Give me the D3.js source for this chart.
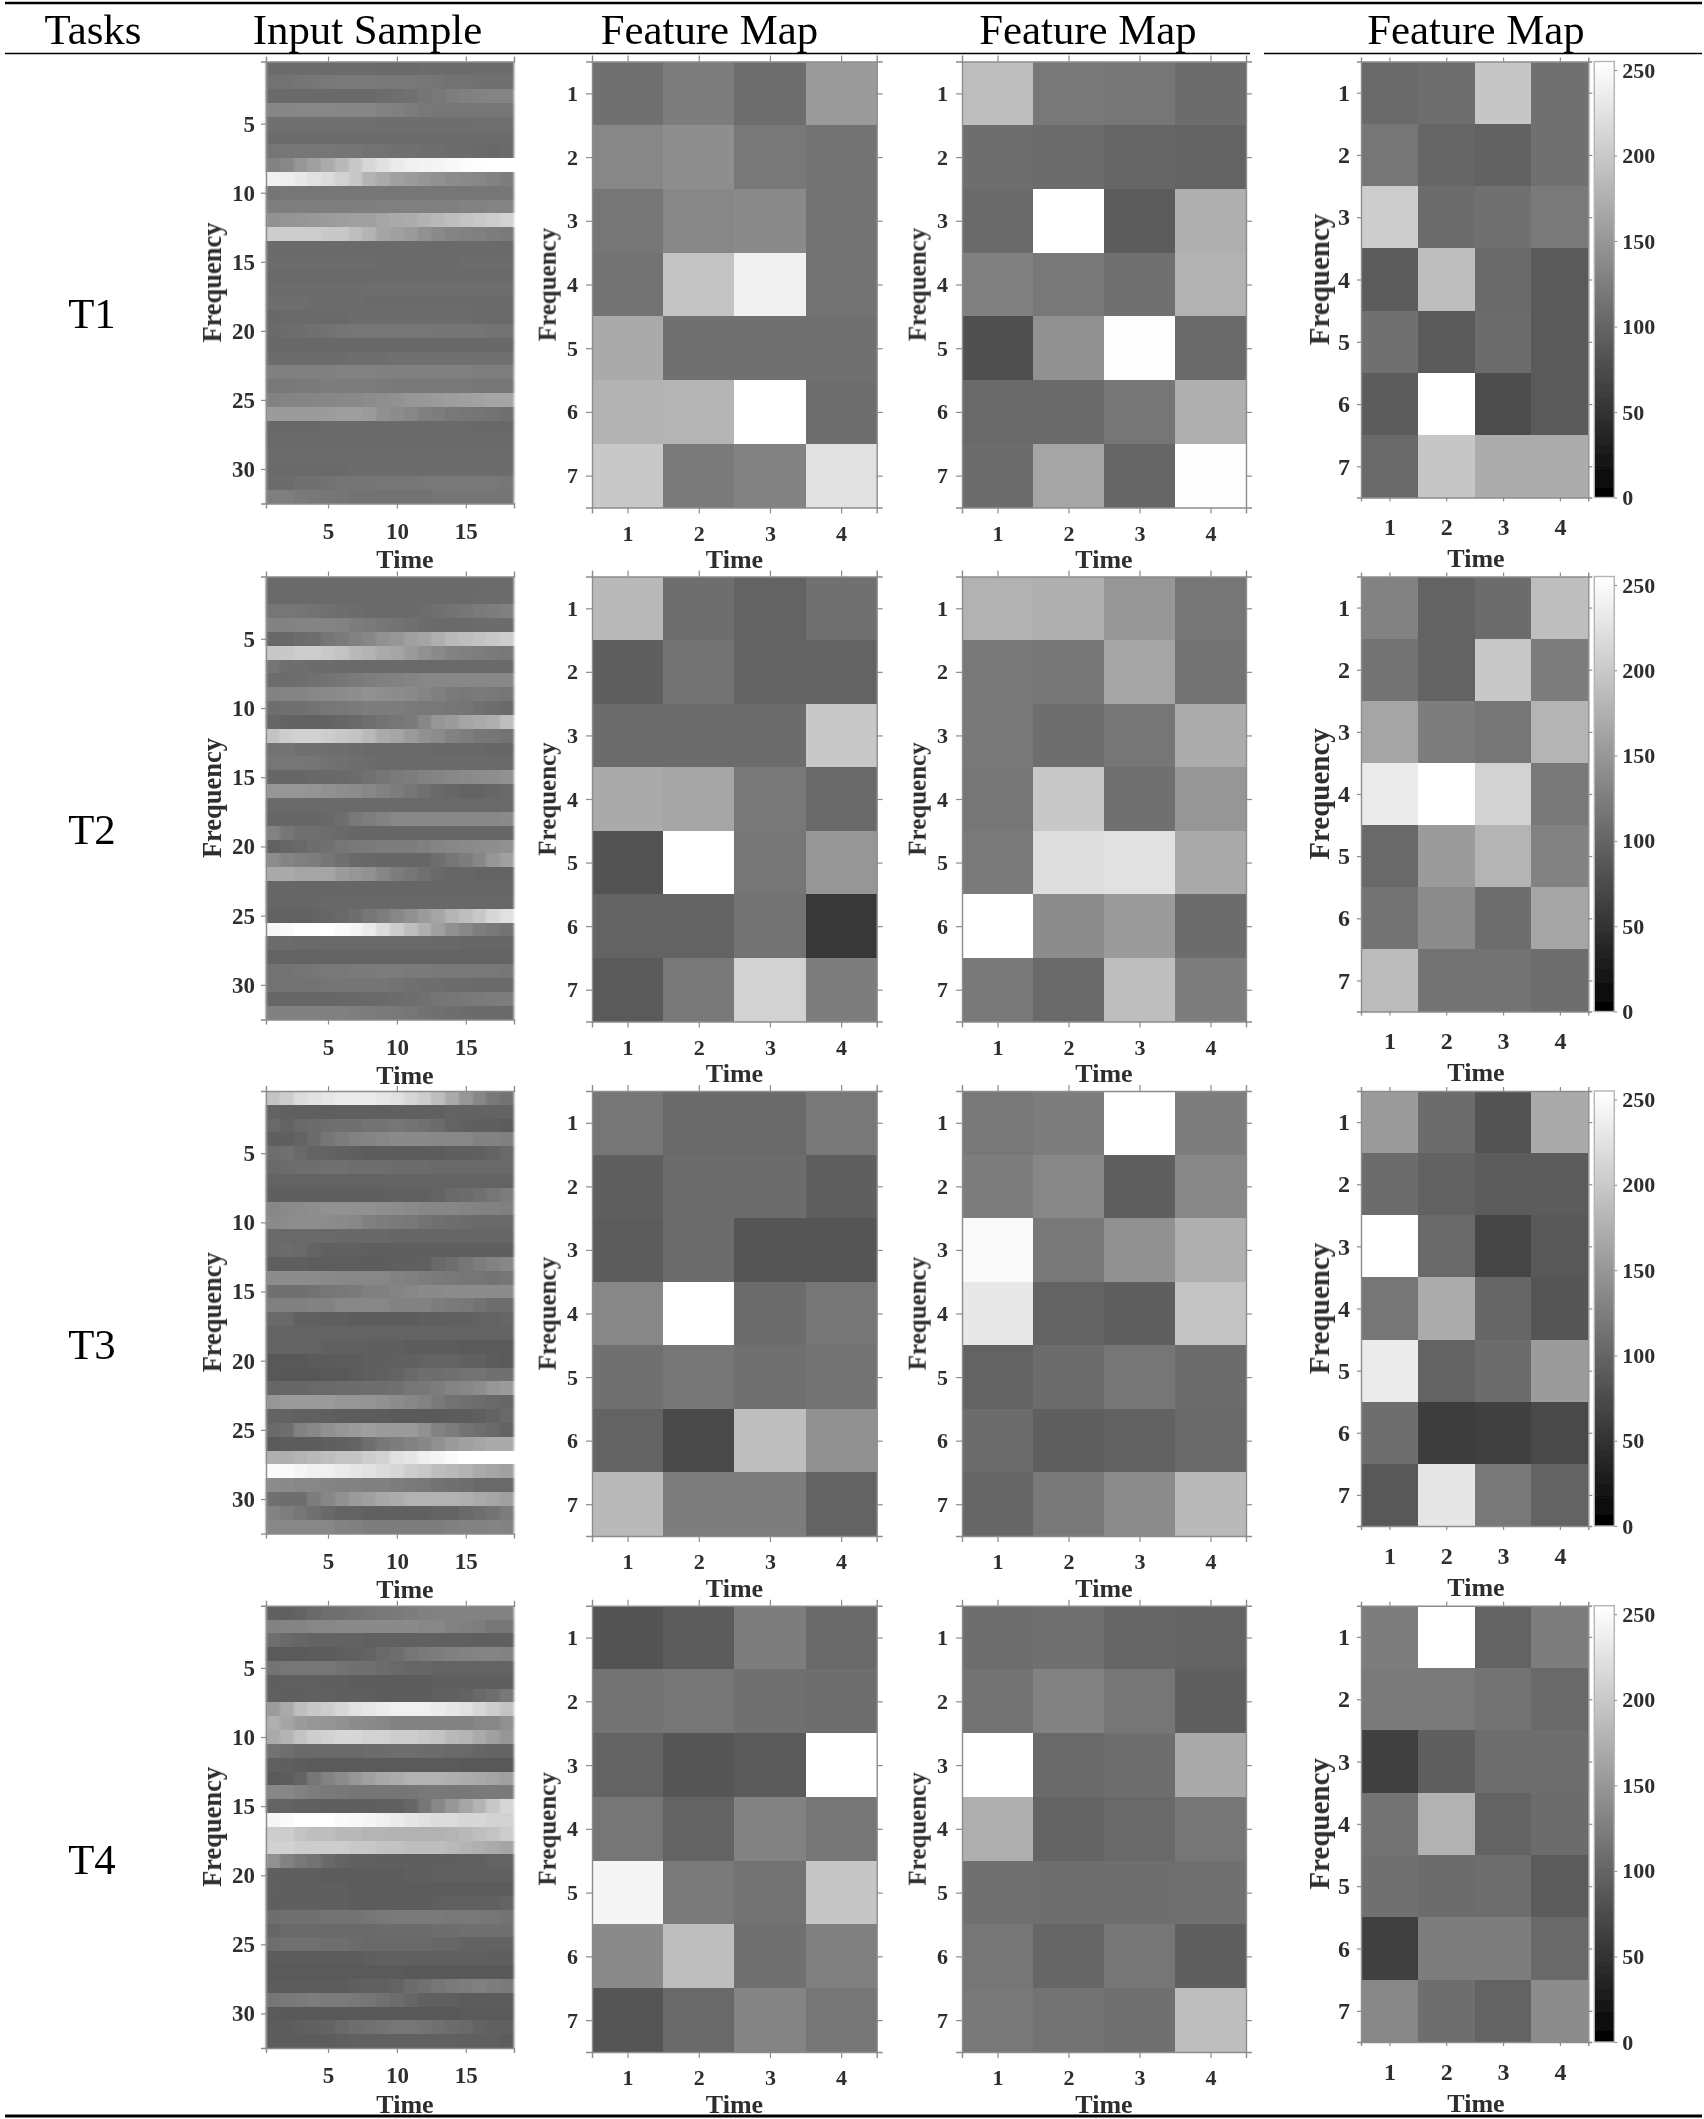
<html lang="en">
<head>
<meta charset="utf-8">
<script src="https://cdn.jsdelivr.net/npm/d3@7"></script>
<style>
body{margin:0;background:#fff}
svg{display:block}
text{font-family:"Liberation Serif",serif}
</style>
</head>
<body>
<div id="drawarea"></div>
<script>
const headers=["Tasks","Input Sample","Feature Map","Feature Map","Feature Map"]
const tasks=["T1","T2","T3","T4"]
const inputYTicks=[5,10,15,20,25,30]
const inputXTicks=[5,10,15]
const mapYTicks=[1,2,3,4,5,6,7]
const mapXTicks=[1,2,3,4]
const barTicks=[0,50,100,150,200,250]

//gray levels, rows are frequency, columns are time
const t1Input=[
[108,108,108,108,108,108,108,108,107,107,107,108,108,108,108,108,108,108],
[114,114,116,118,120,122,122,122,120,120,120,118,116,114,114,112,112,112],
[106,106,106,106,106,106,106,106,108,110,112,116,120,125,128,130,132,132],
[134,134,136,136,135,134,134,134,130,128,124,120,118,118,118,118,118,118],
[112,112,112,112,112,112,112,112,110,110,110,110,110,110,110,112,112,112],
[108,108,108,108,108,108,108,108,108,108,108,108,108,108,108,108,108,108],
[118,118,118,118,118,116,116,114,114,112,112,110,110,108,108,106,104,106],
[130,136,150,160,170,185,200,215,225,235,240,243,245,248,252,254,255,255],
[240,238,232,225,220,210,200,180,170,160,155,150,145,140,138,135,130,125],
[116,118,118,118,118,118,118,118,118,118,118,118,118,118,118,118,118,118],
[126,126,126,126,126,126,126,126,128,128,128,128,128,128,130,130,132,132],
[145,148,150,152,155,158,160,160,165,170,172,178,185,190,195,200,205,210],
[205,205,205,205,200,200,190,180,165,160,155,145,138,132,130,128,125,122],
[106,106,106,106,106,106,106,106,106,106,106,106,106,106,106,106,106,106],
[108,108,108,108,108,108,108,108,107,107,107,107,107,107,108,108,108,108],
[106,106,106,106,106,106,106,106,106,106,106,106,106,106,106,106,106,106],
[108,108,108,108,108,108,108,110,110,110,110,110,110,110,110,110,110,110],
[110,110,110,108,108,108,108,106,106,106,106,106,106,106,106,106,106,106],
[104,106,106,106,106,106,108,108,108,108,108,108,108,108,108,106,106,106],
[106,108,110,112,114,116,118,118,118,118,118,118,116,116,116,116,114,114],
[104,104,104,104,104,104,104,104,104,104,104,104,104,104,104,104,104,104],
[108,108,108,108,108,108,110,110,110,112,112,112,112,112,112,112,112,112],
[128,128,128,128,128,130,130,130,128,128,128,128,128,128,128,126,126,126],
[120,120,122,122,124,124,124,124,122,120,120,120,120,120,120,118,118,118],
[130,132,133,134,135,136,137,140,142,145,150,152,155,158,160,162,165,165],
[155,155,155,155,155,158,158,155,145,140,135,128,125,120,118,116,115,112],
[104,104,104,104,106,106,106,106,106,106,106,106,106,106,106,104,104,104],
[106,106,106,106,106,106,106,106,106,106,106,106,106,106,106,106,106,106],
[108,108,108,108,108,108,108,108,108,108,108,108,108,108,108,108,108,108],
[106,106,106,106,106,106,108,108,108,108,108,108,108,108,108,108,108,108],
[108,108,112,112,114,116,116,116,118,118,118,120,120,120,120,120,120,118],
[126,126,122,120,118,116,114,114,114,114,114,114,116,116,116,116,116,116]]
const t2Input=[
[106,106,106,106,106,106,106,106,106,106,106,106,106,106,106,106,106,106],
[107,107,107,107,107,107,107,107,107,107,107,107,107,107,107,108,108,108],
[118,118,116,114,112,110,108,107,106,106,106,108,112,115,118,122,125,128],
[130,130,132,132,132,130,125,122,118,115,112,108,106,106,106,108,108,108],
[104,104,108,110,118,122,130,135,145,150,160,165,175,185,190,195,200,205],
[200,200,205,205,200,195,185,180,170,165,155,145,138,130,128,125,122,120],
[118,110,110,108,108,106,106,106,106,106,106,106,106,106,106,106,106,106],
[108,108,110,112,115,118,122,125,128,130,132,135,135,135,135,135,135,135],
[130,132,132,135,138,140,142,145,142,140,138,132,128,122,120,122,120,118],
[110,112,112,115,118,120,122,125,125,125,122,120,120,118,116,112,110,106],
[102,100,98,98,100,102,105,110,115,118,122,135,150,155,165,170,175,190],
[195,205,210,210,205,200,195,185,170,165,155,145,140,130,125,120,118,115],
[115,115,112,112,110,110,108,106,105,105,105,105,104,104,104,104,102,102],
[118,118,118,116,114,112,110,108,106,106,106,106,106,106,106,106,106,106],
[102,102,102,104,104,105,108,112,118,122,125,130,132,135,138,140,142,145],
[150,150,150,148,145,142,140,135,130,125,118,112,105,102,100,100,102,105],
[106,106,106,106,106,106,106,107,107,107,107,105,105,105,105,105,105,105],
[102,102,102,102,104,110,120,125,130,135,135,135,135,135,135,135,135,138],
[130,118,112,112,108,105,102,102,102,102,102,102,102,102,102,102,102,102],
[98,102,105,110,112,118,120,122,125,125,125,128,132,135,138,140,142,145],
[140,132,128,125,118,112,105,104,102,102,102,102,110,118,125,135,150,160],
[170,170,165,165,165,155,150,145,135,125,118,112,105,102,102,100,100,100],
[102,102,102,102,102,102,102,102,102,102,102,102,102,102,102,102,102,102],
[102,102,102,102,104,104,104,104,104,104,104,104,104,104,104,104,104,104],
[98,98,98,100,102,105,110,118,125,135,145,155,165,180,190,200,215,225],
[245,250,255,255,255,250,245,235,220,205,190,175,160,145,135,125,120,115],
[108,108,106,106,105,105,105,105,105,105,105,105,104,104,102,102,102,102],
[100,100,100,100,100,100,100,100,100,100,100,100,100,100,100,100,100,100],
[114,115,116,118,120,120,122,122,124,124,122,122,120,120,120,120,120,118],
[114,114,115,115,116,116,116,116,116,114,112,110,110,108,108,106,106,106],
[102,102,102,102,102,104,104,105,106,108,110,112,116,118,120,122,124,125],
[128,128,128,128,128,128,126,124,122,120,118,114,112,110,108,106,106,105]]
const t3Input=[
[195,205,220,225,230,235,235,235,230,225,215,205,190,170,150,135,120,115],
[100,96,95,94,94,94,94,94,95,96,96,97,97,99,100,100,100,100],
[105,100,105,108,110,112,112,115,115,118,115,112,108,100,97,95,94,92],
[95,95,100,108,118,125,130,132,135,138,138,138,135,135,135,130,130,128],
[110,112,105,100,100,97,95,92,92,92,92,92,92,94,94,97,100,105],
[105,108,110,110,112,112,110,110,110,108,108,108,105,105,105,105,105,105],
[100,100,100,100,100,100,99,99,99,99,99,99,99,99,99,99,99,99],
[95,94,94,95,95,95,95,95,95,96,96,97,100,105,108,112,118,125],
[135,138,140,142,145,145,145,145,142,140,138,135,135,135,132,130,130,128],
[138,140,142,142,140,138,135,128,125,122,120,115,112,110,108,105,105,105],
[105,105,105,105,105,104,104,104,104,102,102,102,102,102,102,102,102,102],
[105,108,105,100,97,96,96,95,95,95,94,94,94,94,94,94,95,95],
[95,94,94,93,93,93,93,93,93,94,95,97,105,110,118,125,130,135],
[140,140,140,140,138,135,135,135,135,130,128,125,122,120,118,118,115,118],
[112,112,112,115,118,120,122,128,128,132,135,138,138,140,140,140,140,140],
[128,128,128,130,130,135,135,135,135,130,130,130,125,122,120,115,110,110],
[105,105,97,96,95,94,92,92,92,92,92,94,95,96,97,99,100,102],
[100,100,100,100,100,100,100,100,100,100,100,100,99,99,99,99,99,99],
[100,100,99,100,97,97,96,95,94,94,92,92,92,91,90,90,90,90],
[88,88,89,90,90,91,92,94,95,96,97,99,99,99,97,96,92,90],
[88,86,86,86,88,88,91,94,96,99,105,110,110,112,115,115,112,112],
[102,102,102,105,105,108,108,110,110,112,118,120,125,132,135,140,150,155],
[150,155,155,155,155,150,150,148,145,140,135,130,122,115,112,108,105,102],
[100,100,97,96,95,92,92,91,91,90,90,90,90,91,92,94,100,105],
[105,110,130,135,145,150,155,158,155,155,155,145,130,125,115,110,105,100],
[90,91,92,92,95,96,100,110,120,125,130,135,145,155,160,165,170,170],
[175,175,180,185,190,195,195,205,210,225,230,240,245,250,255,255,255,255],
[250,250,245,240,240,235,230,225,220,215,205,200,190,185,178,170,165,160],
[140,138,135,135,132,130,130,128,128,125,122,120,115,112,110,105,105,105],
[112,110,110,125,135,145,155,160,168,172,178,178,178,178,175,170,165,160],
[130,125,118,112,105,100,99,97,97,97,97,97,99,100,105,110,115,125],
[135,135,135,135,135,130,128,125,125,125,125,125,125,128,130,130,132,130]]
const t4Input=[
[97,97,100,105,110,112,115,118,120,122,125,128,130,130,130,130,130,130],
[130,132,132,135,135,138,138,138,138,138,138,135,135,130,128,125,118,118],
[110,105,102,100,100,99,99,97,97,97,97,97,97,96,95,94,94,94],
[90,90,90,91,92,94,96,100,105,110,118,122,125,128,130,132,132,130],
[115,118,118,118,118,115,112,112,108,105,102,102,100,100,100,100,100,100],
[95,96,96,96,95,94,92,92,92,92,92,92,94,94,95,95,95,95],
[96,95,95,96,96,95,94,94,92,92,92,92,96,97,100,105,110,120],
[155,170,190,200,205,215,225,230,235,240,240,240,235,230,225,215,205,195],
[175,165,155,150,148,145,140,138,135,130,130,130,130,130,130,135,135,145],
[170,180,195,205,210,215,215,210,210,205,205,200,195,185,180,170,160,150],
[115,110,105,105,105,105,105,108,108,110,110,108,108,105,105,102,100,100],
[96,95,92,90,90,90,90,90,90,90,90,90,90,90,89,89,89,88],
[90,92,100,118,130,140,150,160,168,172,178,178,178,175,172,168,165,160],
[135,135,130,125,122,120,118,118,118,118,118,120,120,120,120,122,122,122],
[100,100,97,96,95,94,94,95,96,97,102,118,135,150,165,180,200,215],
[245,250,255,255,255,250,248,245,240,235,230,225,220,220,215,215,210,210],
[205,205,195,190,190,185,185,180,180,178,178,178,178,180,185,190,195,205],
[210,210,205,205,205,205,200,200,195,195,190,190,190,185,180,175,170,165],
[145,130,120,115,105,99,97,96,94,94,94,95,95,95,96,97,100,100],
[95,95,95,94,92,92,92,92,92,92,94,94,96,97,97,97,97,97],
[96,95,95,95,94,94,92,92,92,92,92,92,92,92,92,92,92,92],
[95,95,95,94,94,94,92,92,92,92,92,92,94,96,96,97,97,100],
[110,112,112,112,115,115,115,118,120,122,122,122,122,120,120,120,118,115],
[102,105,105,105,105,105,105,105,108,108,108,108,110,110,112,112,112,112],
[110,112,112,112,110,110,108,105,105,105,105,105,102,102,100,100,100,99],
[92,92,92,92,92,92,92,94,96,97,97,97,97,97,97,96,95,94],
[90,90,90,90,90,90,90,90,90,90,89,89,89,89,89,89,89,89],
[91,91,91,91,92,92,94,96,97,100,108,112,118,122,125,128,125,122],
[118,120,122,125,122,122,120,118,112,108,102,97,95,94,92,92,92,92],
[90,89,89,89,89,89,89,89,89,89,89,89,89,89,90,90,90,90],
[92,92,95,97,100,105,110,112,115,118,118,115,112,108,105,100,97,96],
[92,92,92,92,92,94,96,96,96,96,96,96,96,96,95,94,94,92]]

const t1MapA=[[112,125,110,155],[135,142,120,115],[118,135,138,115],[115,195,240,115],[170,112,112,112],[178,180,255,110],[200,122,130,225]]
const t1MapB=[[190,120,118,108],[110,108,102,100],[106,255,92,175],[128,120,112,178],[80,145,253,106],[105,106,118,175],[108,165,102,253]]
const t1MapC=[[106,110,198,112],[118,102,98,112],[205,108,112,122],[92,190,106,90],[112,90,108,90],[92,255,78,90],[105,198,172,172]]
const t2MapA=[[185,110,100,112],[95,115,100,100],[108,108,108,200],[170,165,120,105],[82,255,118,150],[100,100,115,55],[90,120,210,125]]
const t2MapB=[[178,175,150,118],[120,118,165,115],[120,110,118,172],[118,200,112,150],[122,222,225,170],[255,140,155,108],[120,105,190,125]]
const t2MapC=[[130,100,108,190],[115,100,200,125],[165,125,118,180],[235,255,210,120],[105,155,180,130],[115,140,110,165],[188,115,115,110]]
const t3MapA=[[118,105,105,120],[95,108,108,95],[92,108,85,84],[135,255,108,118],[112,118,112,115],[100,72,190,145],[185,125,125,100]]
const t3MapB=[[120,125,255,125],[125,135,95,135],[250,120,145,175],[232,100,95,195],[100,108,118,108],[108,95,98,105],[102,120,140,185]]
const t3MapC=[[155,108,82,170],[108,98,92,92],[255,105,68,88],[118,172,102,84],[235,100,108,155],[110,60,64,72],[88,230,120,100]]
const t4MapA=[[82,92,125,105],[115,118,112,110],[100,85,90,255],[118,100,130,118],[245,122,115,198],[138,190,112,128],[84,105,132,118]]
const t4MapB=[[110,112,102,100],[115,130,118,95],[255,105,110,170],[175,100,105,118],[112,110,110,112],[118,102,118,95],[120,115,112,190]]
const t4MapC=[[125,255,100,125],[122,122,115,105],[64,95,110,110],[115,178,100,108],[112,108,110,92],[64,125,125,105],[135,110,100,140]]

const inputs=[t1Input,t2Input,t3Input,t4Input]
const mapsA=[t1MapA,t2MapA,t3MapA,t4MapA]
const mapsB=[t1MapB,t2MapB,t3MapB,t4MapB]
const mapsC=[t1MapC,t2MapC,t3MapC,t4MapC]

////////////////layout////////////////
const W=1704,H=2119
const rowTop=[61.5,576.5,1091,1605.7]
const inputH=[442,443,442.6,442.3]
const mapH=[446,445,445,446.3]
const lastH=[436,435,435,436.3]
const headerX=[93,367.5,709.5,1088,1476]
const taskBase=[327.5,843.5,1358.5,1873.5]

const gray=d3.scaleLinear().domain([0,255]).range(["#000","#fff"])

main=d3.select("#drawarea").append("svg").attr("width",W).attr("height",H)
defs=main.append("defs")
defs.append("filter").attr("id","soft").append("feGaussianBlur").attr("stdDeviation",0.55)
defs.append("filter").attr("id","softer").append("feGaussianBlur").attr("stdDeviation",0.3)
defs.append("filter").attr("id","smear").append("feGaussianBlur").attr("stdDeviation","0.9 0.5")

//table rules
rules=main.append("g")
function rule(x1,x2,y,w){rules.append("line").attr("x1",x1).attr("x2",x2).attr("y1",y).attr("y2",y).style("stroke","#000").style("stroke-width",w)}
rule(5,1702,3,2.4)
rule(5,1250,53.5,1.6)
rule(1264,1702,53.5,1.6)
rule(5,1702,2116,3)

heads=main.append("g").attr("filter","url(#softer)")
heads.selectAll("text").data(headers).join("text")
 .attr("x",(d,i)=>headerX[i]).attr("y",43.5).attr("text-anchor","middle")
 .style("font-size","42.8px").style("fill","#000").text(d=>d)
heads.selectAll(null).data(tasks).join("text")
 .attr("x",92).attr("y",(d,i)=>taskBase[i]).attr("text-anchor","middle")
 .style("font-size","42.8px").style("fill","#000").text(d=>d)

function drawPanel(o){
let nRows=o.data.length,nCols=o.data[0].length
let x=d3.scaleLinear().domain([0.5,nCols+0.5]).range([o.x0,o.x1])
let y=d3.scaleLinear().domain([0.5,nRows+0.5]).range([o.y0,o.y1])
let g=main.append("g").attr("filter","url(#soft)")
let cells=o.data.flatMap((row,r)=>row.map((v,c)=>({r:r+1,c:c+1,v:v})))
let cellG=main.insert("g",()=>g.node())
if(nCols>4){cellG.attr("filter","url(#smear)")}
else{cellG.attr("filter","url(#soft)")}
cellG.selectAll("rect").data(cells).join("rect")
 .attr("x",d=>x(d.c-0.5)).attr("y",d=>y(d.r-0.5))
 .attr("width",d=>x(d.c+0.5)-x(d.c-0.5)).attr("height",d=>y(d.r+0.5)-y(d.r-0.5))
 .attr("shape-rendering","crispEdges")
 .style("fill",d=>gray(d.v))
let left=g.append("g").attr("transform","translate("+o.x0+",0)")
 .call(d3.axisLeft(y).tickValues(o.yTicks).tickSizeOuter(0).tickSize(o.tick).tickPadding(o.padY).tickFormat(d3.format("d")))
let top=g.append("g").attr("transform","translate(0,"+o.y0+")")
 .call(d3.axisTop(x).tickValues(o.xTicks).tickSizeOuter(0).tickSize(o.tick).tickFormat(""))
let bottom=g.append("g").attr("transform","translate(0,"+o.y1+")")
 .call(d3.axisBottom(x).tickValues(o.xTicks).tickSizeOuter(0).tickSize(o.tick).tickPadding(o.padX).tickFormat(d3.format("d")))
let axes=[left,top,bottom]
if(o.rightAxis){
axes.push(g.append("g").attr("transform","translate("+o.x1+",0)")
 .call(d3.axisRight(y).tickValues(o.yTicks).tickSizeOuter(0).tickSize(o.tick).tickFormat("")))
}
axes.forEach(a=>{
a.selectAll(".domain").style("stroke","#8c8c8c").style("stroke-width",1.4)
a.selectAll(".tick line").style("stroke","#8c8c8c").style("stroke-width",1.2)
a.selectAll("text").style("font-family","Liberation Serif").style("font-weight","bold").style("font-size",o.tickFont+"px").style("fill","#2e2e2e")
})
g.append("text").attr("x",o.timeX).attr("y",o.y1+o.timeDy).attr("text-anchor","middle")
 .style("font-weight","bold").style("font-size","26px").style("fill","#2e2e2e").text("Time")
g.append("text").attr("transform","translate("+o.freqX+","+((o.y0+o.y1)/2)+") rotate(-90)").attr("text-anchor","middle").attr("dy","0.35em")
 .style("font-weight","bold").style("font-size",o.freqFont+"px").style("fill","#2e2e2e").text("Frequency")
}

function drawBar(x0,x1,y0,y1){
let y=d3.scaleLinear().domain([0,255]).range([y1,y0])
let g=main.append("g").attr("filter","url(#soft)")
g.append("g").selectAll("rect").data(d3.range(0,255)).join("rect")
 .attr("x",x0).attr("y",d=>y(d+1)).attr("width",x1-x0).attr("height",d=>Math.min(y(d)-y(d+1)+1,y1-y(d+1)))
 .style("fill",d=>gray(d+0.5))
g.append("rect").attr("x",x0).attr("y",y0).attr("width",x1-x0).attr("height",y1-y0)
 .style("fill","none").style("stroke","#b4b4b4").style("stroke-width",1.4)
let a=g.append("g").attr("transform","translate("+x1+",0)")
 .call(d3.axisRight(y).tickValues(barTicks).tickSizeOuter(0).tickSize(3).tickPadding(5).tickFormat(d3.format("d")))
a.select(".domain").style("stroke","none")
a.selectAll(".tick line").style("stroke","#8c8c8c")
a.selectAll("text").style("font-family","Liberation Serif").style("font-weight","bold").style("font-size","22px").style("fill","#2e2e2e")
}

tasks.forEach((t,i)=>{
let y0=rowTop[i]
drawPanel({data:inputs[i],x0:266,x1:514,y0:y0,y1:y0+inputH[i],yTicks:inputYTicks,xTicks:inputXTicks,tick:5,padY:6,padX:14,tickFont:23,
 rightAxis:false,timeX:405,timeDy:64.5,freqX:212,freqFont:26.5})
drawPanel({data:mapsA[i],x0:592,x1:876.7,y0:y0,y1:y0+mapH[i],yTicks:mapYTicks,xTicks:mapXTicks,tick:6,padY:8,padX:11.5,tickFont:22,
 rightAxis:true,timeX:734.5,timeDy:60.5,freqX:546.7,freqFont:25})
drawPanel({data:mapsB[i],x0:962,x1:1246,y0:y0,y1:y0+mapH[i],yTicks:mapYTicks,xTicks:mapXTicks,tick:6,padY:8,padX:11.5,tickFont:22,
 rightAxis:true,timeX:1104,timeDy:60.5,freqX:916.7,freqFont:25})
drawPanel({data:mapsC[i],x0:1361,x1:1588.3,y0:y0,y1:y0+lastH[i],yTicks:mapYTicks,xTicks:mapXTicks,tick:4,padY:7,padX:16.5,tickFont:24,
 rightAxis:true,timeX:1476,timeDy:69.5,freqX:1319,freqFont:29})
drawBar(1594.3,1614.3,y0,y0+lastH[i])
})
</script>
</body>
</html>
